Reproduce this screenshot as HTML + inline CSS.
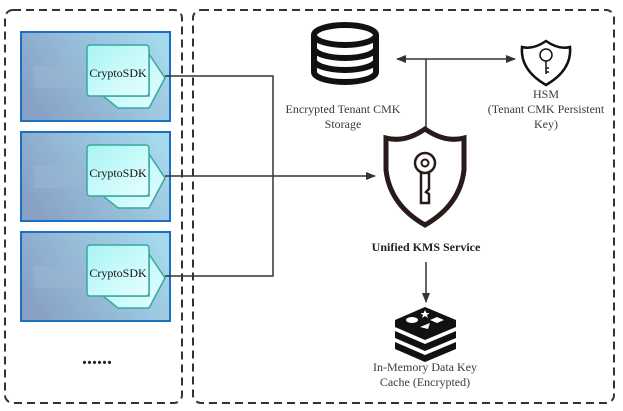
<!DOCTYPE html>
<html><head><style>
body{margin:0;width:623px;height:411px;background:#fff;overflow:hidden}
svg{display:block}
text{font-family:"Liberation Serif",serif;fill:#3a3a3a;font-size:12px}
</style></head><body>
<svg width="623" height="411" viewBox="0 0 623 411">
<defs>
<linearGradient id="bg" x1="0" y1="0.7" x2="1" y2="0.3"><stop offset="0" stop-color="#87a0c4"/><stop offset="1" stop-color="#a5d9ec"/></linearGradient>
<linearGradient id="cg" x1="0" y1="0" x2="1" y2="1"><stop offset="0" stop-color="#a8f4f4"/><stop offset="1" stop-color="#e6ffff"/></linearGradient>
<marker id="ar" markerWidth="10" markerHeight="8" refX="9" refY="4" orient="auto" markerUnits="userSpaceOnUse"><path d="M0,0L10,4L0,8z" fill="#333"/></marker>
</defs>
<rect x="5" y="10" width="177" height="393" rx="8" fill="none" stroke="#333" stroke-width="2" stroke-dasharray="8,5"/>
<rect x="193" y="10" width="421" height="393" rx="8" fill="none" stroke="#333" stroke-width="2" stroke-dasharray="8,5"/>
<g id="b1">
<rect x="21" y="32" width="149" height="89" fill="url(#bg)" stroke="#1a6fc4" stroke-width="2"/>
<rect x="34" y="66" width="48" height="22" fill="#9bb8d4" opacity="0.5"/>
<path d="M103,96 L149,96 L149,54 L165,78 L149,108 L118,108 Z" fill="url(#cg)" stroke="#3aa6a0" stroke-width="1.5"/>
<rect x="87" y="45" width="62" height="51" rx="3" fill="url(#cg)" stroke="#3aa6a0" stroke-width="1.5"/>
<text x="118" y="77" text-anchor="middle" style="fill:#111">CryptoSDK</text>
</g>
<use href="#b1" y="100"/>
<use href="#b1" y="200"/>
<text x="97" y="364" text-anchor="middle" style="font-size:20px;font-weight:bold;fill:#222">......</text>
<g stroke="#333" stroke-width="1.5" fill="none">
<path d="M165,76 H273 V276 H165"/>
<path d="M165,176 H375" marker-end="url(#ar)"/>
<path d="M426,128 V59"/>
<path d="M426,59 H397" marker-end="url(#ar)"/>
<path d="M426,59 H515" marker-end="url(#ar)"/>
<path d="M426,262 V302" marker-end="url(#ar)"/>
</g>
<g fill="none" stroke="#111" stroke-width="6">
<ellipse cx="345" cy="35" rx="31" ry="10"/>
<path d="M314,35 V72 A31,10 0 0 0 376,72 V35"/>
<path d="M314,48 A31,10 0 0 0 376,48"/><path d="M314,60 A31,10 0 0 0 376,60"/>
</g>
<text x="343" y="113" text-anchor="middle">Encrypted Tenant CMK</text>
<text x="343" y="128" text-anchor="middle">Storage</text>
<path d="M546,41 Q533,50 522,47 Q520,70 546,85 Q572,70 570,47 Q559,50 546,41Z" fill="none" stroke="#111" stroke-width="2.5"/>
<circle cx="546" cy="55" r="6" fill="none" stroke="#111" stroke-width="1.5"/>
<path d="M546,61 V74 M546,68 H549 M546,72 H549" stroke="#111" stroke-width="1.5"/>
<text x="546" y="98" text-anchor="middle">HSM</text>
<text x="546" y="113" text-anchor="middle">(Tenant CMK Persistent</text>
<text x="546" y="128" text-anchor="middle">Key)</text>
<path d="M425,129 Q405,143 386,138 L386,170 Q390,205 425,225 Q460,205 464,170 L464,138 Q445,143 425,129Z" fill="none" stroke="#2a1a1a" stroke-width="5"/>
<circle cx="425" cy="163" r="10" fill="none" stroke="#2a1a1a" stroke-width="2.5"/>
<circle cx="425" cy="163" r="3.5" fill="none" stroke="#2a1a1a" stroke-width="2"/>
<path d="M421,172 V203 H429 V194 L426,192 L429,189 V172" fill="none" stroke="#2a1a1a" stroke-width="2.5"/>
<text x="426" y="251" text-anchor="middle" style="font-weight:bold;fill:#222">Unified KMS Service</text>
<g fill="#111">
<path d="M395,342 L425,355 L456,342 L456,349 L425,362 L395,349Z"/>
<path d="M395,331 L425,344 L456,331 L456,338 L425,351 L395,338Z"/>
<path d="M425,307 L456,320 L456,327 L425,340 L395,327 L395,320Z"/>
</g>
<g fill="#fff"><ellipse cx="412" cy="320" rx="6" ry="3"/><path d="M437,317 L444,320 L437,323 L430,320Z"/><path d="M425,310 l1.5,3 3,0 -2.5,2 1,3 -3,-2 -3,2 1,-3 -2.5,-2 3,0z"/><path d="M420,327 L430,323 L428,329Z"/></g>
<text x="425" y="371" text-anchor="middle">In-Memory Data Key</text>
<text x="425" y="386" text-anchor="middle">Cache (Encrypted)</text>
</svg>
</body></html>
